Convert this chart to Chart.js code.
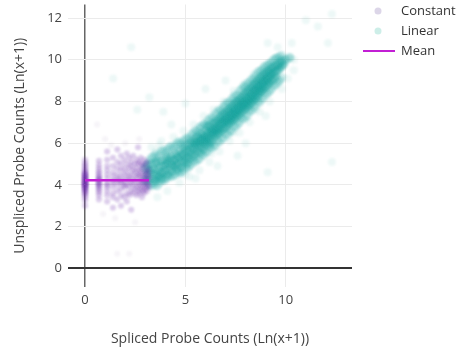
<!DOCTYPE html>
<html><head><meta charset="utf-8">
<script src="https://cdn.jsdelivr.net/npm/chart.js@4/dist/chart.umd.min.js"></script>
<style>html,body{margin:0;padding:0;background:#fff}#w{width:474px;height:361px}</style>
</head><body><div id="w"><canvas id="c" width="474" height="361"></canvas></div>
<script>
const xTicks=[0,5,10];
const yTicks=[0,2,4,6,8,10,12];
const seriesNames=["Constant","Linear","Mean"];
const constantX=[0,0.69,1.10,1.39,1.61,1.79,1.95,2.08,2.20,2.30,2.40,2.48,2.56,2.64,2.71,2.77,2.83,2.89,2.94,3.00,3.04,3.09,3.14,3.18];
const constantY=[
 [3.0,3.25,3.4,3.5,3.6,3.65,3.7,3.75,3.8,3.85,3.9,3.95,4.0,4.02,4.08,4.1,4.15,4.2,4.22,4.28,4.3,4.35,4.4,4.45,4.5,4.55,4.6,4.7,4.75,4.85,4.95,5.05,5.2,3.9,4.1,4.3,4.5,4.0],
 [3.3,3.5,3.65,3.75,3.85,3.95,4.05,4.1,4.2,4.3,4.35,4.45,4.55,4.65,4.8,4.95,5.15,4.0,4.25],
 [3.2,3.5,3.7,3.9,4.1,4.3,4.5,4.7,4.9,5.2,5.6,4.0],
 [3.4,3.6,3.9,4.2,4.4,4.6,4.9,5.3,2.9,4.1],
 [3.3,3.7,4.0,4.3,4.5,4.8,5.1,5.7,4.2],
 [3.5,3.8,4.1,4.4,4.7,5.0,5.4,3.0,4.2],
 [3.4,3.9,4.2,4.5,4.8,5.2,4.0],
 [3.6,4.0,4.3,4.6,5.0,5.5,3.2],
 [3.5,3.9,4.2,4.4,4.8,5.3],
 [3.7,4.1,4.5,4.9,5.1,2.8],
 [3.6,4.0,4.3,4.7,5.4],
 [3.8,4.2,4.6,5.0],
 [3.5,3.9,4.4,4.8,5.2],
 [3.7,4.1,4.5,5.0,5.8],
 [3.6,4.0,4.4,4.7,5.1],
 [3.8,4.2,4.6,5.3],
 [3.4,3.9,4.3,4.8,5.0],
 [3.7,4.1,4.5,4.9],
 [3.6,4.0,4.4,5.2],
 [3.8,4.2,4.6,5.0],
 [3.9,4.3,4.7],
 [3.7,4.1,4.5,5.1],
 [4.0,4.4,4.8],
 [3.9,4.3,4.6]
];
const constantFaint=[[1.6,0.7],[2.2,0.7],[0.6,6.9],[1.0,6.2],[1.5,2.4],[2.5,2.2],[1.3,5.9],[2.0,6.0],[0.9,2.6],[2.7,6.2]];
const linearPoints=[
 [3.0,4.2],[3.0,4.8],[3.1,4.5],[3.1,4.95],[3.2,4.25],[3.2,4.7],[3.3,4.6],[3.3,5.0],[3.4,4.3],[3.4,4.75],
 [3.5,4.5],[3.5,5.05],[3.5,4.2],[3.6,4.7],[3.6,4.35],[3.6,5.1],[3.7,4.85],[3.7,4.45],[3.8,4.6],[3.8,5.15],[3.8,4.3],[3.9,4.9],[3.9,4.55],
 [4.0,5.2],[4.0,4.7],[4.0,4.95],[4.1,4.5],[4.1,5.05],[4.1,5.35],[4.2,4.8],[4.2,5.2],[4.3,5.0],[4.3,4.65],[4.3,5.4],[4.4,5.15],[4.4,4.85],
 [4.5,5.5],[4.5,4.9],[4.5,5.2],[4.6,5.0],[4.6,5.35],[4.6,4.75],[4.7,5.3],[4.7,5.65],[4.8,5.1],[4.8,5.45],[4.8,4.85],[4.9,5.4],[4.9,5.75],[4.9,5.05],
 [5.0,5.2],[5.0,5.55],[5.0,5.9],[5.1,5.35],[5.1,5.7],[5.1,5.05],[5.2,5.6],[5.2,5.95],[5.2,5.25],[5.3,5.45],[5.3,5.8],[5.3,6.1],[5.4,5.7],[5.4,5.35],[5.4,6.0],
 [5.5,5.85],[5.5,5.5],[5.5,6.2],[5.5,6.0],[5.6,5.65],[5.6,6.05],[5.6,6.35],[5.7,5.9],[5.7,6.25],[5.7,5.55],[5.7,6.05],[5.8,6.15],[5.8,5.8],[5.8,6.45],[5.9,6.0],[5.9,6.35],[5.9,5.7],[5.9,6.2],
 [6.0,6.3],[6.0,5.9],[6.0,6.6],[6.0,6.1],[6.1,6.45],[6.1,6.05],[6.1,6.8],[6.1,6.25],[6.2,6.2],[6.2,6.55],[6.2,5.95],[6.2,6.85],[6.3,6.4],[6.3,6.7],[6.3,6.1],[6.3,6.55],[6.4,6.6],[6.4,6.25],[6.4,6.95],[6.4,6.45],
 [6.5,6.65],[6.5,6.35],[6.5,7.0],[6.5,6.8],[6.6,6.75],[6.6,6.45],[6.6,7.1],[6.6,6.6],[6.7,6.9],[6.7,6.5],[6.7,7.2],[6.7,6.7],[6.8,6.95],[6.8,6.6],[6.8,7.3],[6.8,7.1],[6.9,7.05],[6.9,6.7],[6.9,7.4],[6.9,6.9],
 [7.0,7.1],[7.0,6.75],[7.0,7.45],[7.0,7.25],[7.1,7.2],[7.1,6.85],[7.1,7.55],[7.1,7.0],[7.2,7.3],[7.2,6.95],[7.2,7.65],[7.2,7.15],[7.2,7.5],[7.3,7.4],[7.3,7.05],[7.3,7.75],[7.3,7.2],[7.4,7.5],[7.4,7.15],[7.4,7.85],[7.4,7.35],[7.4,7.65],
 [7.5,7.55],[7.5,7.2],[7.5,7.95],[7.5,7.4],[7.6,7.65],[7.6,7.3],[7.6,8.0],[7.6,7.5],[7.6,7.85],[7.7,7.75],[7.7,7.4],[7.7,8.1],[7.7,7.6],[7.8,7.85],[7.8,7.5],[7.8,8.2],[7.8,7.7],[7.8,8.0],[7.9,7.95],[7.9,7.6],[7.9,8.3],[7.9,7.8],
 [8.0,8.0],[8.0,7.65],[8.0,8.4],[8.0,8.2],[8.0,7.85],[8.1,8.1],[8.1,7.75],[8.1,8.5],[8.1,7.95],[8.2,8.2],[8.2,7.85],[8.2,8.6],[8.2,8.4],[8.2,8.05],[8.3,8.3],[8.3,7.95],[8.3,8.7],[8.3,8.15],[8.4,8.45],[8.4,8.05],[8.4,8.8],[8.4,8.6],[8.4,8.25],
 [8.5,8.55],[8.5,8.15],[8.5,8.9],[8.5,8.35],[8.6,8.65],[8.6,8.25],[8.6,9.0],[8.6,8.8],[8.6,8.45],[8.7,8.75],[8.7,8.4],[8.7,9.1],[8.7,8.55],[8.8,8.85],[8.8,8.5],[8.8,9.2],[8.8,9.0],[8.8,8.65],[8.9,8.95],[8.9,8.6],[8.9,9.3],[8.9,8.75],
 [9.0,9.0],[9.0,8.7],[9.0,9.35],[9.0,9.15],[9.1,9.1],[9.1,8.8],[9.1,9.45],[9.1,8.95],[9.2,9.2],[9.2,8.9],[9.2,9.5],[9.2,9.35],[9.3,9.3],[9.3,9.0],[9.3,9.6],[9.4,9.35],[9.4,9.1],[9.4,9.65],
 [9.5,9.45],[9.5,9.2],[9.5,9.7],[9.6,9.5],[9.6,9.75],[9.7,9.6],[9.7,9.85],[9.8,9.7],[9.8,9.95],[9.9,9.8],[10.0,10.0],[10.2,10.1]
];
const linearEdge=[
 [3.2,5.15],[3.2,4.0],[3.4,5.35],[3.4,4.1],[3.6,5.3],[3.6,3.95],[3.8,5.6],[3.8,4.25],[4.0,5.55],[4.0,4.3],[4.2,5.8],[4.2,4.45],[4.4,5.75],[4.4,4.45],
 [4.6,6.0],[4.6,4.65],[4.8,5.95],[4.8,4.6],[5.0,6.2],[5.0,4.85],[5.2,6.25],[5.2,4.9],[5.4,6.5],[5.4,5.15],[5.6,6.55],[5.6,5.2],[5.8,6.8],[5.8,5.45],
 [6.0,6.9],[6.0,5.55],[6.2,7.15],[6.2,5.8],[6.4,7.2],[6.4,5.85],[6.6,7.5],[6.6,6.1],[6.8,7.55],[6.8,6.2],[7.0,7.85],[7.0,6.45],[7.2,7.95],[7.2,6.55],
 [7.4,8.2],[7.4,6.8],[7.6,8.3],[7.6,6.9],[7.8,8.6],[7.8,7.2],[8.0,8.7],[8.0,7.25],[8.2,8.95],[8.2,7.55],[8.4,9.1],[8.4,7.7],[8.6,9.4],[8.6,8.0],
 [8.8,9.5],[8.8,8.1],[9.0,9.7],[9.0,8.35],[9.2,9.8],[9.2,8.5],[9.4,10.0],[9.4,8.75],[9.6,10.1],[9.6,8.9],[9.8,10.2],[9.8,9.15],
 [3.3,5.3],[3.3,3.95],[3.5,5.45],[3.5,4.0],[3.7,5.45],[3.7,4.1],[3.9,5.65],[3.9,4.2],[4.1,5.7],[4.1,4.35],[4.3,5.85],[4.3,4.4],[4.5,5.9],[4.5,4.5],
 [4.7,6.05],[4.7,4.55],[4.9,6.1],[4.9,4.7],[5.1,6.25],[5.1,4.8],[5.3,6.4],[5.3,5.0],[5.5,6.6],[5.5,5.1],[5.7,6.75],[5.7,5.25],[5.9,6.9],[5.9,5.4],
 [6.1,7.05],[6.1,5.6],[6.3,7.25],[6.3,5.75],[6.5,7.4],[6.5,5.9],[6.7,7.6],[6.7,6.05],[6.9,7.75],[6.9,6.25],[7.1,7.95],[7.1,6.4],[7.3,8.1],[7.3,6.6],
 [7.5,8.3],[7.5,6.8],[7.7,8.5],[7.7,7.0],[7.9,8.7],[7.9,7.15],[8.1,8.85],[8.1,7.35],[8.3,9.05],[8.3,7.55],[8.5,9.25],[8.5,7.8],[8.7,9.45],[8.7,7.95],
 [8.9,9.6],[8.9,8.2],[9.1,9.75],[9.1,8.4],[9.3,9.9],[9.3,8.6],[9.5,10.05],[9.5,8.8],[9.7,10.15],[9.7,9.0]
];
const linearFaint=[
 [3.3,5.8],[3.6,3.4],[3.8,6.1],[4.1,3.7],[4.4,6.3],[4.7,4.1],[4.9,6.6],[5.2,4.4],[5.4,6.9],[5.7,4.7],[5.9,7.3],[6.2,5.1],[6.4,7.6],[6.7,5.6],
 [6.9,8.0],[7.2,6.1],[7.4,8.5],[7.7,6.5],[7.9,8.8],[8.2,7.0],[8.4,9.3],[8.7,7.5],[8.9,9.7],[9.2,8.0],[9.5,10.1],[9.8,8.6],[10.1,9.1],[10.4,9.5],
 [10.3,10.8],[9.6,10.6],[5.0,7.9],[6.0,8.6],[7.0,9.0],[8.0,6.0],[9.0,7.3],[4.3,6.9],[3.7,5.9],[5.5,4.3],[6.6,4.9],[7.6,5.4],
 [2.3,10.6],[1.4,9.1],[3.2,8.2],[2.6,7.6],[3.9,7.5],[11.0,11.9],[12.3,12.2],[11.6,11.6],[12.1,10.8],[9.1,10.8],[12.3,5.1],[9.1,4.6],
 [3.5,5.6],[4.0,4.2],[4.6,6.1],[5.0,4.5],[5.7,6.7],[6.3,5.5],[6.9,7.7],[7.4,6.5],[8.0,8.9],[8.5,7.6],[9.2,9.8],[9.7,9.0],[10.4,10.0]
];
const meanY=4.22;
const meanXRange=[0,3.18];

const toPts=a=>a.map(p=>({x:p[0],y:p[1]}));
const constantData=constantX.flatMap((x,i)=>constantY[i].map(y=>({x:x,y:y})));

const FONT="'Open Sans', sans-serif";
const legendPlugin={
 id:'customLegend',
 beforeDatasetDraw(chart,args){
  chart.ctx.save();
  if(args.meta.type!=='line') chart.ctx.filter='blur(1.2px)';
 },
 afterDatasetDraw(chart){chart.ctx.restore();},
 afterDraw(chart){
  const ctx=chart.ctx;ctx.save();
  ctx.font="13px "+FONT;ctx.textBaseline='middle';ctx.textAlign='left';
  const rows=[11,31,51];
  ctx.fillStyle='#dcd6e8';ctx.beginPath();ctx.arc(378,rows[0],3.5,0,Math.PI*2);ctx.fill();
  ctx.fillStyle='#cdeee8';ctx.beginPath();ctx.arc(378,rows[1],3.5,0,Math.PI*2);ctx.fill();
  ctx.strokeStyle='#c21fd4';ctx.lineWidth=2;ctx.beginPath();ctx.moveTo(363,rows[2]);ctx.lineTo(395,rows[2]);ctx.stroke();
  ctx.fillStyle='#333';
  seriesNames.forEach((n,i)=>ctx.fillText(n,401,rows[i]));
  ctx.restore();
 }
};
const pt=(col,r)=>({pointBackgroundColor:col,backgroundColor:col,pointBorderWidth:0,pointBorderColor:'rgba(0,0,0,0)',borderColor:'rgba(0,0,0,0)',pointRadius:r,pointHoverRadius:r});

new Chart(document.getElementById('c'),{
 type:'scatter',
 data:{datasets:[
  {label:seriesNames[2],type:'line',order:0,data:[{x:meanXRange[0],y:meanY},{x:meanXRange[1],y:meanY}],borderColor:'#c21fd4',borderWidth:2.5,pointRadius:0,fill:false},
  Object.assign({label:seriesNames[0],order:1,data:constantData},pt('rgba(110,45,170,0.24)',3)),
  Object.assign({label:seriesNames[0]+' faint',order:1,data:toPts(constantFaint)},pt('rgba(140,110,170,0.08)',3)),
  Object.assign({label:seriesNames[1],order:2,data:toPts(linearPoints)},pt('rgba(22,163,158,0.36)',4.5)),
  Object.assign({label:seriesNames[1]+' edge',order:2,data:toPts(linearEdge)},pt('rgba(22,163,158,0.2)',4.5)),
  Object.assign({label:seriesNames[1]+' faint',order:2,data:toPts(linearFaint)},pt('rgba(22,163,158,0.08)',4))
 ]},
 options:{
  responsive:false,animation:false,devicePixelRatio:1,
  layout:{padding:{left:0,top:0,right:122,bottom:0}},
  plugins:{legend:{display:false},tooltip:{enabled:false}},
  scales:{
   x:{type:'linear',min:-0.85,max:13.3,
      afterBuildTicks:s=>{s.ticks=xTicks.map(v=>({value:v}));},
      afterFit:s=>{s.height=74;s.paddingLeft=0;s.paddingRight=0;},
      border:{display:false},
      grid:{drawTicks:false,color:c=>c.tick&&c.tick.value===0?'#666':'#ebebeb',lineWidth:c=>c.tick&&c.tick.value===0?1.5:1},
      ticks:{padding:5,color:'#444',font:{family:FONT,size:13},maxRotation:0},
      title:{display:true,text:'Spliced Probe Counts (Ln(x+1))',color:'#444',font:{family:FONT,size:14},padding:{top:0,bottom:14}}},
   y:{type:'linear',min:-0.9,max:12.65,
      afterBuildTicks:s=>{s.ticks=yTicks.map(v=>({value:v}));},
      afterFit:s=>{s.width=68;s.paddingTop=0;s.paddingBottom=0;},
      border:{display:false},
      grid:{drawTicks:false,color:c=>c.tick&&c.tick.value===0?'#333':'#ebebeb',lineWidth:c=>c.tick&&c.tick.value===0?2:1},
      ticks:{padding:6,color:'#444',font:{family:FONT,size:13}},
      title:{display:true,text:'Unspliced Probe Counts (Ln(x+1))',color:'#444',font:{family:FONT,size:14},padding:{top:12,bottom:0}}}
  }
 },
 plugins:[legendPlugin]
});
</script></body></html>
